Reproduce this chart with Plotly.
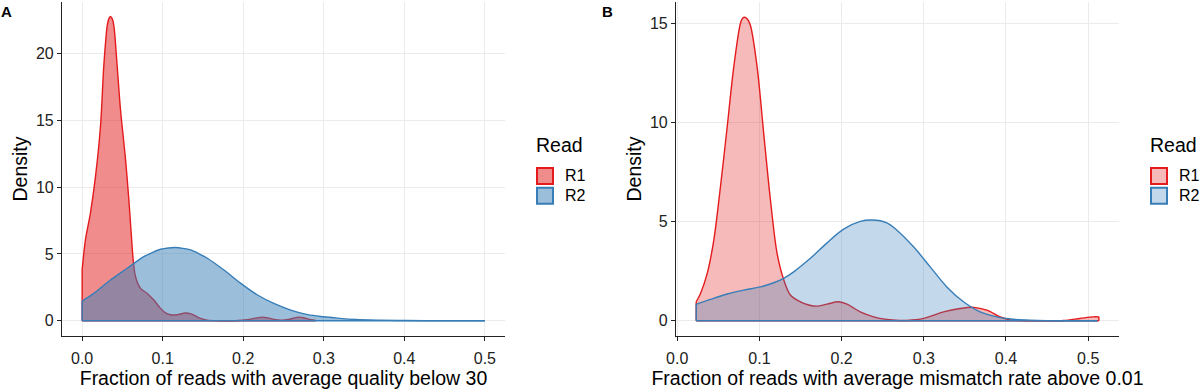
import plotly.graph_objects as go

# ---------------- data ----------------
reads = ["R1", "R2"]

# Panel A: fraction of reads with average quality below 30
qa_r1_x = [0.0, 0.0041, 0.0103, 0.0166, 0.0228, 0.0269, 0.0311, 0.0332, 0.0352, 0.0373, 0.0394,
           0.0435, 0.0476, 0.0539, 0.058, 0.0609, 0.0634, 0.0663, 0.0725, 0.0808, 0.089, 0.0974,
           0.1036, 0.11, 0.1182, 0.128, 0.1368, 0.147, 0.155, 0.17, 0.19, 0.205, 0.215, 0.224,
           0.232, 0.24, 0.248, 0.256, 0.2694, 0.278, 0.284, 0.29]
qa_r1_y = [3.8, 6.05, 8.06, 10.8, 14.55, 19.05, 22.05, 22.6, 22.76, 22.6, 22.05,
           19.05, 15.8, 12.05, 9.05, 6.56, 4.55, 3.3, 2.43, 2.05, 1.55, 0.93,
           0.6, 0.45, 0.45, 0.58, 0.48, 0.18, 0.05, 0.01, 0.01, 0.08, 0.2, 0.28,
           0.2, 0.08, 0.05, 0.1, 0.28, 0.18, 0.08, 0.03]
qa_r2_x = [0.0, 0.0145, 0.0352, 0.056, 0.0766, 0.087, 0.0974, 0.107, 0.116, 0.125, 0.1347, 0.145,
           0.1555, 0.176, 0.197, 0.2177, 0.238, 0.259, 0.28, 0.30, 0.32, 0.34, 0.37, 0.40, 0.45, 0.50]
qa_r2_y = [1.48, 2.05, 3.05, 3.93, 4.8, 5.1, 5.35, 5.45, 5.48, 5.42, 5.3, 5.02,
           4.68, 3.8, 2.8, 1.93, 1.3, 0.8, 0.46, 0.3, 0.18, 0.1, 0.05, 0.02, 0.005, 0.0]

# Panel B: fraction of reads with average mismatch rate above 0.01
mm_r1_x = [0.0231, 0.0283, 0.0365, 0.0445, 0.0526, 0.0608, 0.0688, 0.0769, 0.0795, 0.0822, 0.0855,
           0.089, 0.0972, 0.1052, 0.1134, 0.1215, 0.1295, 0.1377, 0.1498, 0.16, 0.17, 0.1823,
           0.1964, 0.2066, 0.2227, 0.239, 0.255, 0.27, 0.2795, 0.2997, 0.324, 0.344, 0.3604,
           0.3767, 0.393, 0.405, 0.43, 0.45, 0.47, 0.49, 0.506, 0.513]
mm_r1_y = [0.96, 1.38, 2.39, 4.07, 6.76, 9.78, 12.8, 15.0, 15.25, 15.3, 15.2,
           14.9, 12.8, 9.45, 6.09, 3.4, 2.08, 1.3, 0.96, 0.8, 0.74, 0.84,
           0.96, 0.84, 0.45, 0.2, 0.07, 0.02, 0.02, 0.12, 0.45, 0.62, 0.68,
           0.54, 0.2, 0.05, 0.0, 0.0, 0.02, 0.12, 0.2, 0.2]
mm_r2_x = [0.0231, 0.0405, 0.0608, 0.081, 0.1012, 0.1174, 0.1295, 0.1417, 0.162, 0.1823, 0.2024,
           0.2227, 0.237, 0.255, 0.2673, 0.2875, 0.3078, 0.328, 0.3483, 0.3685, 0.3888, 0.409,
           0.43, 0.45, 0.48, 0.511]
mm_r2_y = [0.83, 1.08, 1.35, 1.55, 1.71, 1.92, 2.14, 2.47, 3.15, 3.93, 4.62,
           5.01, 5.08, 4.94, 4.57, 3.73, 2.72, 1.71, 0.96, 0.45, 0.2, 0.08,
           0.03, 0.01, 0.0, 0.0]

x_ticks = [0.0, 0.1, 0.2, 0.3, 0.4, 0.5]
x_tick_labels = ["0.0", "0.1", "0.2", "0.3", "0.4", "0.5"]
ya_ticks = [0, 5, 10, 15, 20]
yb_ticks = [0, 5, 10, 15]

line_colors = {"R1": "#E41A1C", "R2": "#377EB8"}
fill_a = {"R1": "rgba(228,26,28,0.5)", "R2": "rgba(55,126,184,0.5)"}
fill_b = {"R1": "rgba(228,26,28,0.3)", "R2": "rgba(55,126,184,0.3)"}

FONT = "Liberation Sans, Arial, Helvetica, sans-serif"
LW = 1.4

fig = go.Figure()

panels = [
    ("x", "y", "legend", fill_a, {"R1": (qa_r1_x, qa_r1_y), "R2": (qa_r2_x, qa_r2_y)}),
    ("x2", "y2", "legend2", fill_b, {"R1": (mm_r1_x, mm_r1_y), "R2": (mm_r2_x, mm_r2_y)}),
]

for xa, ya, leg, fills, data in panels:
    for r in reads:
        xs, ys = data[r]
        # density curve, filled to the baseline
        fig.add_trace(go.Scatter(
            x=xs, y=ys, mode="lines", fill="tozeroy", fillcolor=fills[r],
            line=dict(color=line_colors[r], width=LW, shape="spline", smoothing=0.9),
            xaxis=xa, yaxis=ya, showlegend=False, hoverinfo="skip"))
        # polygon outline: end edges and baseline
        fig.add_trace(go.Scatter(
            x=[xs[0], xs[0], None, xs[-1], xs[-1], None, xs[0], xs[-1]],
            y=[0, ys[0], None, ys[-1], 0, None, 0, 0],
            mode="lines", line=dict(color=line_colors[r], width=LW),
            xaxis=xa, yaxis=ya, showlegend=False, hoverinfo="skip"))
    for r in reads:
        fig.add_trace(go.Scatter(
            x=[None], y=[None], mode="markers",
            name='<span style="font-size:16px">' + r + '</span>', xaxis=xa, yaxis=ya,
            marker=dict(symbol="square", size=16, color=fills[r],
                        line=dict(color=line_colors[r], width=2)),
            legend=leg, showlegend=True))

axis_common = dict(
    showline=True, linecolor="#222222", linewidth=1.2,
    ticks="outside", ticklen=4, tickwidth=1.1, tickcolor="#222222",
    showgrid=True, gridcolor="#EBEBEB", gridwidth=1,
    zeroline=False, tickfont=dict(family=FONT, size=16, color="#222222"),
    mirror=False, automargin=False,
)
title_font = dict(family=FONT, size=19.5, color="black")

y_dom = [1 - 336 / 390, 1 - 2 / 390]

legend_common = dict(
    xanchor="left", yanchor="top",
    font=dict(family=FONT, size=13, color="black"), itemsizing="trace",
    bgcolor="rgba(0,0,0,0)", tracegroupgap=0,
)

fig.update_layout(
    width=1200, height=390,
    margin=dict(l=0, r=0, t=0, b=0, autoexpand=False),
    paper_bgcolor="white", plot_bgcolor="white",
    font=dict(family=FONT, color="black"),
    xaxis=dict(domain=[62 / 1200, 505 / 1200], range=[-0.025, 0.525],
               tickvals=x_ticks, ticktext=x_tick_labels, ticklabelstandoff=4,
               title=dict(text="Fraction of reads with average quality below 30",
                          font=title_font, standoff=5),
               **axis_common),
    yaxis=dict(domain=y_dom, range=[-1.135, 23.84], tickvals=ya_ticks, anchor="x",
               ticklabelstandoff=0,
               title=dict(text="Density", font=title_font, standoff=3),
               **axis_common),
    xaxis2=dict(domain=[676 / 1200, 1119 / 1200], range=[-0.0015, 0.5375], anchor="y2",
                tickvals=x_ticks, ticktext=x_tick_labels, ticklabelstandoff=4,
                title=dict(text="Fraction of reads with average mismatch rate above 0.01",
                           font=title_font, standoff=5),
                **axis_common),
    yaxis2=dict(domain=y_dom, range=[-0.765, 16.07], tickvals=yb_ticks, anchor="x2",
                ticklabelstandoff=0,
                title=dict(text="Density", font=title_font, standoff=3),
                **axis_common),
    legend=dict(x=525 / 1200, y=1 - 161 / 390, **legend_common),
    legend2=dict(x=1139 / 1200, y=1 - 161 / 390, **legend_common),
    annotations=[
        dict(text="<b>A</b>", x=-1 / 1200, y=1 - 1 / 390, xref="paper", yref="paper",
             xanchor="left", yanchor="top", showarrow=False,
             font=dict(family=FONT, size=15, color="black")),
        dict(text="<b>B</b>", x=600 / 1200, y=1 - 1 / 390, xref="paper", yref="paper",
             xanchor="left", yanchor="top", showarrow=False,
             font=dict(family=FONT, size=15, color="black")),
        dict(text="Read", x=534 / 1200, y=1 - 145 / 390, xref="paper", yref="paper",
             xanchor="left", yanchor="middle", showarrow=False, font=title_font),
        dict(text="Read", x=1148 / 1200, y=1 - 145 / 390, xref="paper", yref="paper",
             xanchor="left", yanchor="middle", showarrow=False, font=title_font),
    ],
)

fig.write_html("out.html", config={"displayModeBar": False},
               post_script="document.body.style.margin='0';")
